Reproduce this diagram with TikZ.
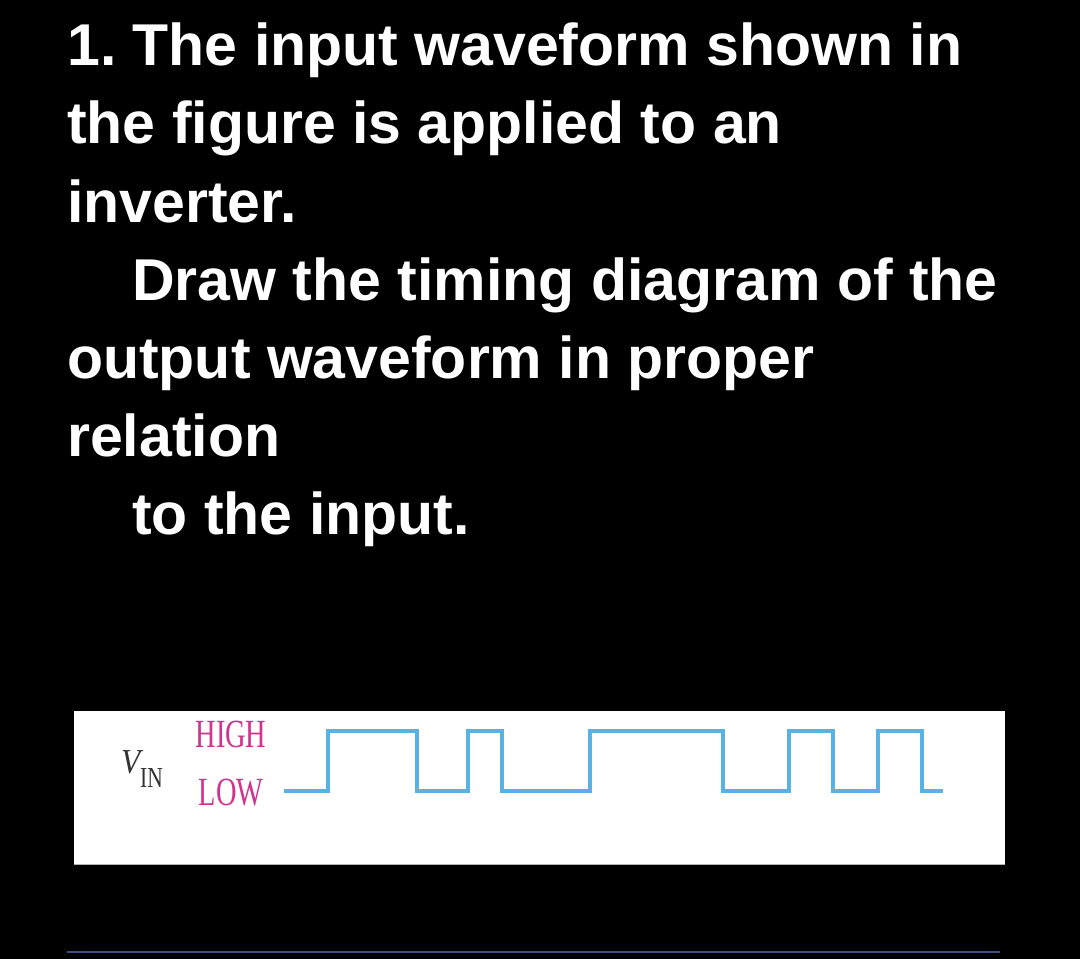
\documentclass[tikz,border=0pt]{standalone}
\usepackage{fontspec}
\setmainfont{Liberation Sans}
\newfontfamily\serifcond{Liberation Serif}
\definecolor{wave}{RGB}{88,178,228}
\definecolor{lvl}{RGB}{208,52,140}
\definecolor{vlab}{RGB}{50,50,50}
\definecolor{rule}{RGB}{64,80,128}
\frenchspacing
\tikzset{
  qline/.style={anchor=base west, inner sep=0pt, text=white, font=\fontsize{59}{59}\selectfont\bfseries},
  lvltext/.style={anchor=base, inner sep=0pt, text=lvl, font=\fontsize{40}{40}\selectfont\serifcond, xscale=0.71},
  vtext/.style={anchor=base west, inner sep=0pt, text=vlab, font=\fontsize{35}{35}\selectfont\serifcond\itshape, xscale=0.9},
  intext/.style={anchor=base west, inner sep=0pt, text=vlab, font=\fontsize{29}{29}\selectfont\serifcond, xscale=0.74},
  wavestyle/.style={draw=wave, line width=3.5pt, line join=miter}
}
\begin{document}
\begin{tikzpicture}[x=1pt,y=-1pt]
\fill[black] (0,0) rectangle (1080,959);
\useasboundingbox (0,0) rectangle (1080,959);
\node[qline] (l1) at (67,65) {1. The input waveform shown in};
\node[qline] (l2) at (67,143) {the figure is applied to an};
\node[qline] (l3) at (67,222) {inverter.};
\node[qline] (l4) at (132,300) {Draw the timing diagram of the};
\node[qline] (l5) at (67,378) {output waveform in proper};
\node[qline] (l6) at (67,456) {relation};
\node[qline] (l7) at (132,534) {to the input.};
% figure panel
\fill[white] (74,711) rectangle (1005,864);
\draw[gray!60, line width=1pt] (74,864) -- (1005,864);
\node[lvltext] (high) at (231,747) {HIGH};
\node[lvltext] (low) at (231,805) {LOW};
\node[vtext] (v) at (121,773) {V};
\node[intext] (in) at (140,787) {IN};
\draw[wavestyle] (284,791) -- (328,791) -- (328,731) -- (417,731) -- (417,791) -- (468,791) -- (468,731) -- (502,731) -- (502,791) -- (590,791) -- (590,731) -- (723,731) -- (723,791) -- (789,791) -- (789,731) -- (833,731) -- (833,791) -- (878,791) -- (878,731) -- (922,731) -- (922,791) -- (943,791);
\coordinate (ra) at (67,952);
\coordinate (rb) at (1000,952);
\draw[rule, line width=2pt] (ra) -- (rb);
\end{tikzpicture}
\end{document}
